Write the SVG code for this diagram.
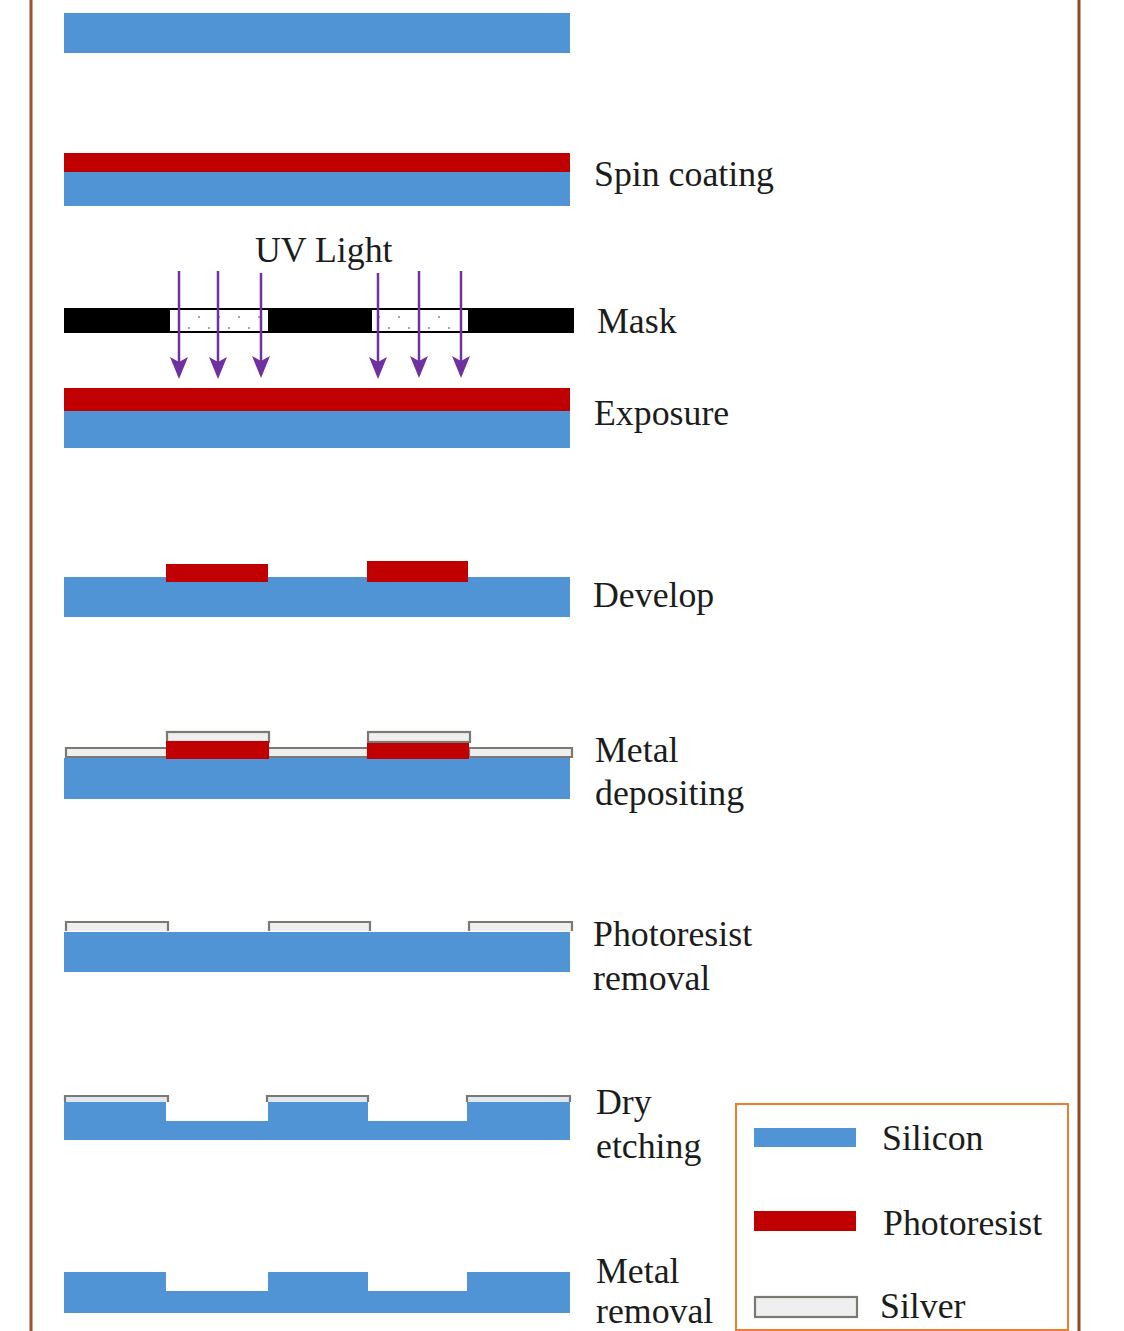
<svg xmlns="http://www.w3.org/2000/svg" width="1124" height="1331" viewBox="0 0 1124 1331">
<style>
.si{fill:#5094d5}
.pr{fill:#c00000}
.ag{fill:#efefef;stroke:#7a7a72;stroke-width:2.2}
.t{font-family:"Liberation Serif","Times New Roman",serif;font-size:35.8px;fill:#1c1c1c}
.a{stroke:#7030a0;stroke-width:2.5;fill:none;marker-end:url(#ah)}
</style>
<defs><marker id="ah" markerUnits="userSpaceOnUse" markerWidth="22" markerHeight="20" refX="18" refY="10" orient="auto" viewBox="0 0 22 20"><path d="M0 1L5 10L0 19L22 10Z" fill="#7030a0"/></marker></defs>
<rect width="1124" height="1331" fill="#fff"/>
<g id="frame"><path d="M31 0V1331" fill="none" stroke="#a0522d" stroke-width="3"/><path d="M1079 0V1331" fill="none" stroke="#8a4a26" stroke-width="3"/></g>
<g id="step-1"><rect class="si" x="64" y="13" width="506" height="40"/></g>
<g id="step-2"><rect class="si" x="64" y="171" width="506" height="35"/><rect class="pr" x="64" y="153" width="506" height="19"/><text class="t" x="594" y="186">Spin coating</text></g>
<g id="step-3">
<text class="t" x="255" y="262">UV Light</text>
<rect x="64" y="308" width="510" height="25" fill="#000"/>
<rect x="170" y="310" width="98" height="21" fill="#fff"/><rect x="372" y="310" width="96" height="21" fill="#fff"/>
<g fill="#888"><circle cx="179" cy="317" r="1"/><circle cx="199" cy="317" r="1"/><circle cx="219" cy="317" r="1"/><circle cx="239" cy="317" r="1"/><circle cx="259" cy="317" r="1"/><circle cx="189" cy="328" r="1"/><circle cx="209" cy="328" r="1"/><circle cx="229" cy="328" r="1"/><circle cx="249" cy="328" r="1"/><circle cx="379" cy="317" r="1"/><circle cx="399" cy="317" r="1"/><circle cx="419" cy="317" r="1"/><circle cx="439" cy="317" r="1"/><circle cx="389" cy="328" r="1"/><circle cx="409" cy="328" r="1"/><circle cx="429" cy="328" r="1"/><circle cx="449" cy="328" r="1"/></g>
<rect class="si" x="64" y="410" width="506" height="38"/><rect class="pr" x="64" y="388" width="506" height="23"/>
<text class="t" x="597" y="333">Mask</text><text class="t" x="594" y="425">Exposure</text></g>
<g id="connectors">
<line class="a" x1="179" y1="271" x2="179" y2="375"/><line class="a" x1="218" y1="271" x2="218" y2="375"/><line class="a" x1="261" y1="273" x2="261" y2="374"/><line class="a" x1="378" y1="273" x2="378" y2="375"/><line class="a" x1="419" y1="271" x2="419" y2="374"/><line class="a" x1="461" y1="271" x2="461" y2="374"/>
</g>
<g id="step-4"><rect class="si" x="64" y="577" width="506" height="40"/><rect class="pr" x="166" y="564" width="102" height="18"/><rect class="pr" x="367" y="561" width="101" height="21"/><text class="t" x="593" y="607">Develop</text></g>
<g id="step-5">
<rect class="si" x="64" y="758" width="506" height="41"/>
<path class="ag" d="M66 757V748H167V757ZM268 757V748H368V757ZM469 757V748H572V757Z"/>
<rect class="ag" x="167" y="732" width="102" height="10"/><rect class="ag" x="368" y="732" width="102" height="10"/>
<rect class="pr" x="166" y="741" width="103" height="18"/><rect class="pr" x="367" y="743" width="102" height="16"/>
<text class="t" x="595" y="762">Metal</text><text class="t" x="595" y="805">depositing</text></g>
<g id="step-6"><rect class="si" x="64" y="932" width="506" height="40"/>
<path class="ag" d="M66 931V922H168V931M269 931V922H370V931M469 931V922H572V931"/>
<text class="t" x="593" y="946">Photoresist</text><text class="t" x="593" y="990">removal</text></g>
<g id="step-7"><path class="si" d="M64 1102H166V1121H268V1102H368V1121H467V1102H570V1140H64Z"/>
<path class="ag" d="M65 1102V1096H168V1102M267 1102V1096H368V1102M467 1102V1096H570V1102" style="fill:#dfe8f2"/>
<text class="t" x="596" y="1114">Dry</text><text class="t" x="596" y="1158">etching</text></g>
<g id="step-8"><path class="si" d="M64 1272H166V1291H268V1272H368V1291H467V1272H570V1313H64Z"/>
<text class="t" x="596" y="1283">Metal</text><text class="t" x="596" y="1323">removal</text></g>
<g id="legend"><rect x="736" y="1104" width="332" height="226" fill="#fff" stroke="#ed7d31" stroke-width="2"/>
<rect class="si" x="754" y="1128" width="102" height="19"/><rect class="pr" x="754" y="1211" width="102" height="20"/><rect class="ag" x="755" y="1297" width="102" height="20"/>
<text class="t" x="882" y="1150">Silicon</text><text class="t" x="883" y="1235">Photoresist</text><text class="t" x="880" y="1318">Silver</text></g>
</svg>
